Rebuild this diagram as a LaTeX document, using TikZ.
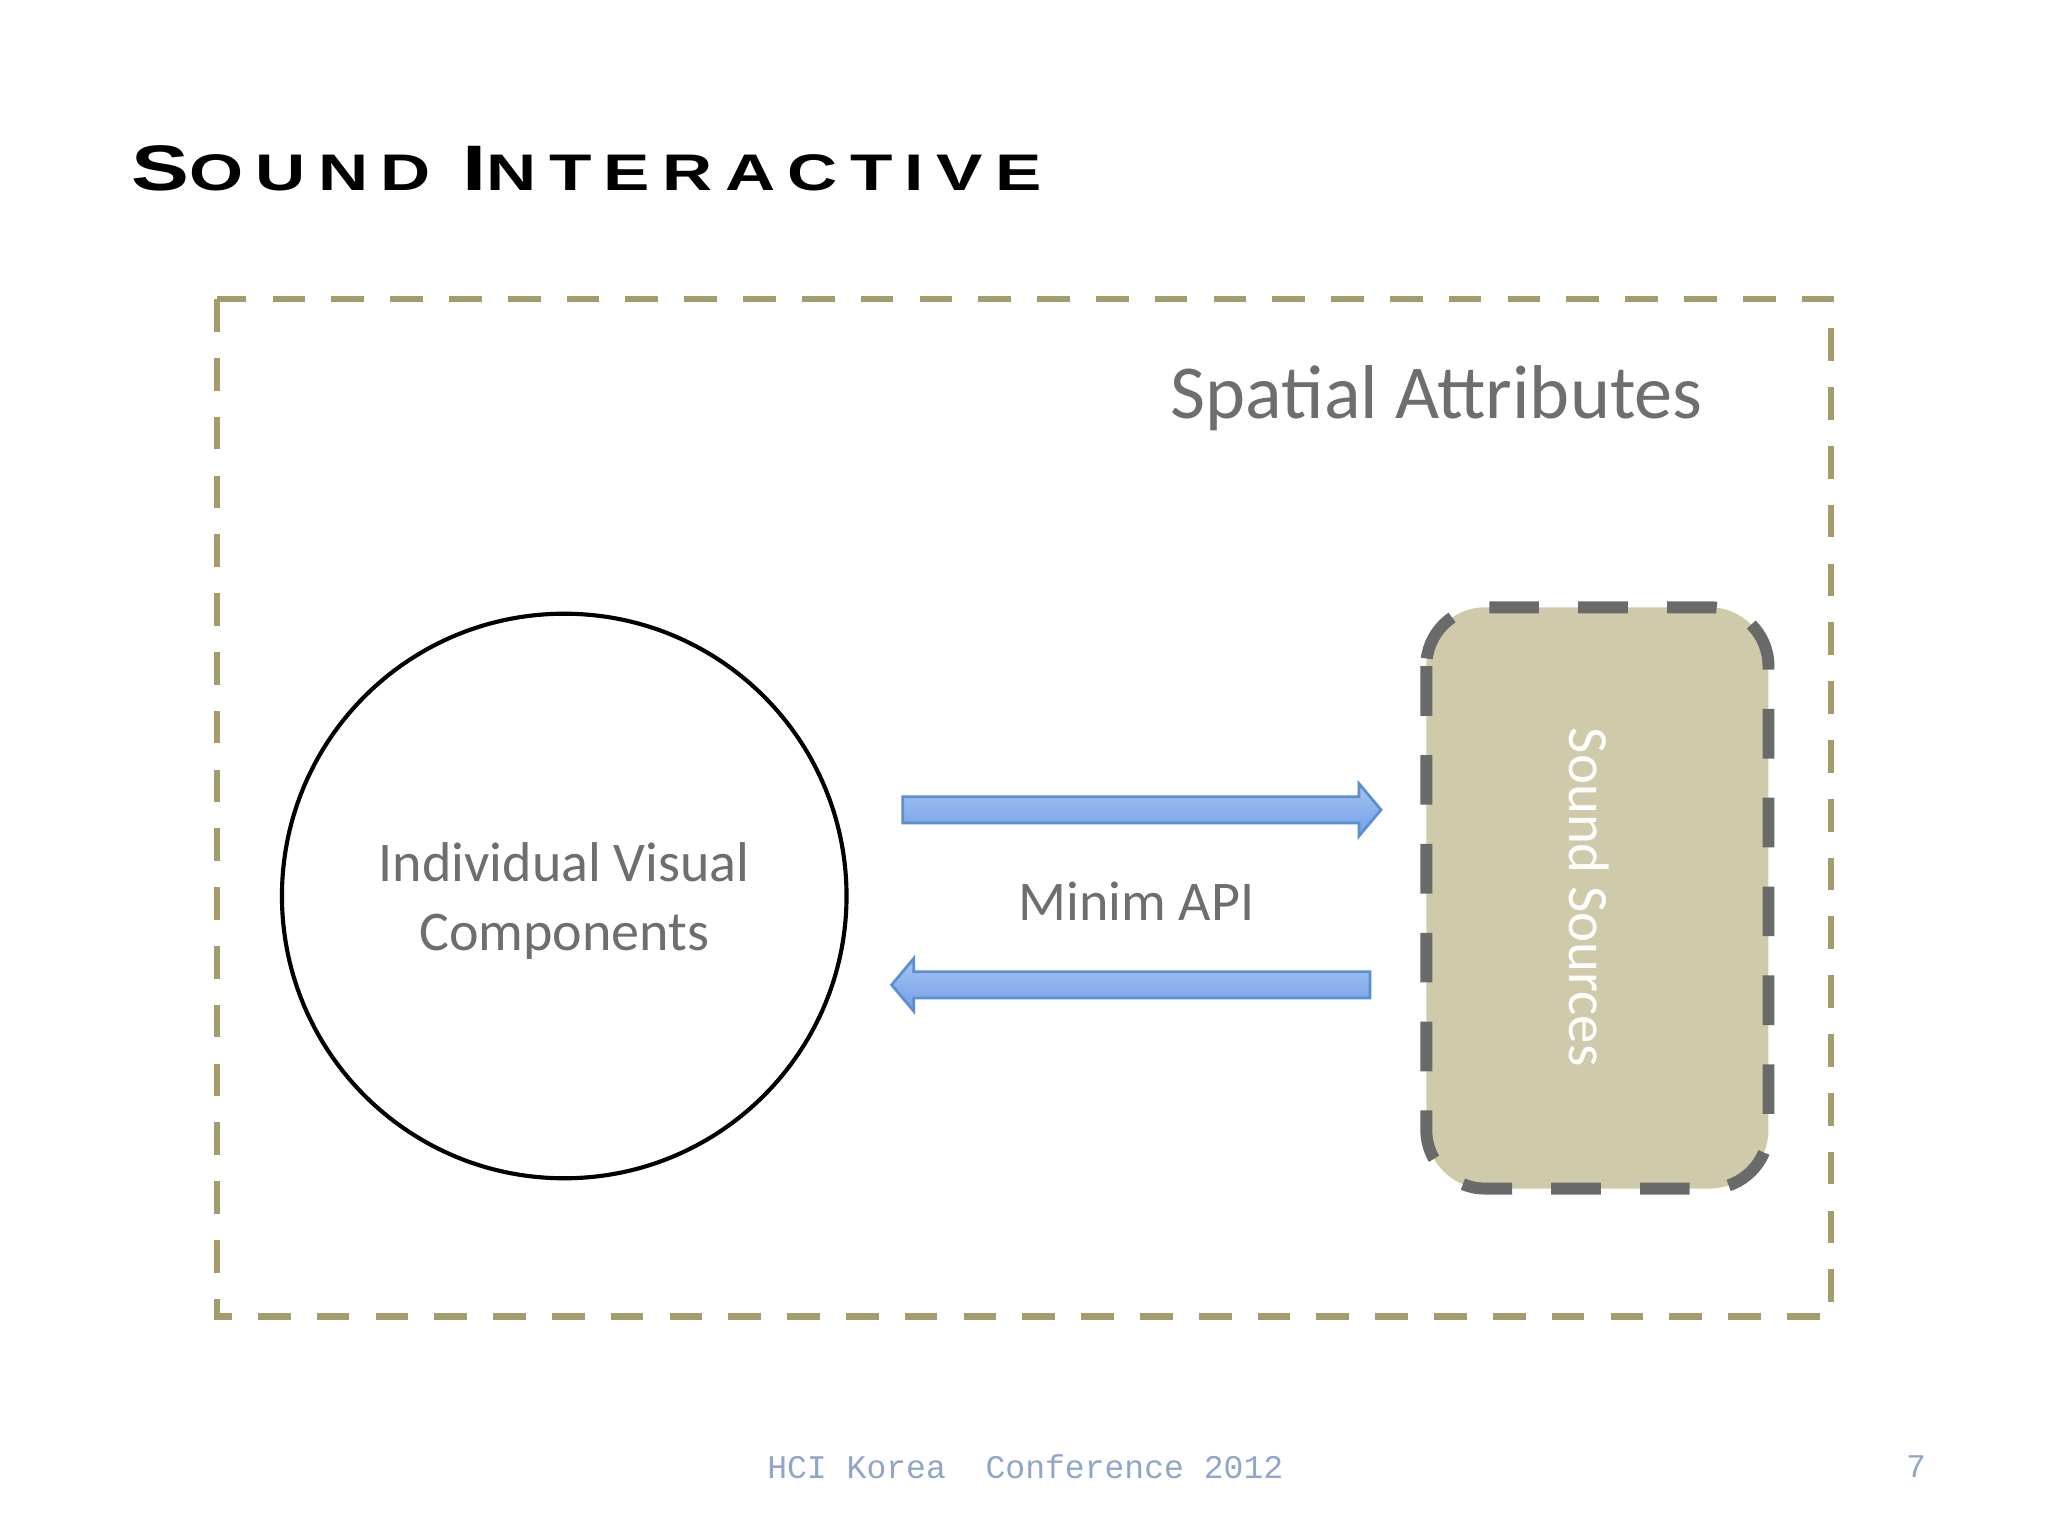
\documentclass[tikz,border=0pt]{standalone}
\usepackage{fontspec}
\setmainfont{Carlito}
\newfontfamily\titlefont[LetterSpace=24,FakeStretch=1.35]{Liberation Sans}
\newfontfamily\footfont{Liberation Mono}
\usetikzlibrary{shapes.arrows}
\definecolor{olive}{HTML}{A59C6E}
\definecolor{boxfill}{HTML}{CFCAA9}
\definecolor{boxline}{HTML}{6A6A6A}
\definecolor{txtgrey}{HTML}{6E6E6E}
\definecolor{foot}{HTML}{8FA6C9}
\definecolor{arrfill}{HTML}{7FAEE8}
\definecolor{arrline}{HTML}{5B8FD0}
\tikzset{
  px/.style={x=0.01cm,y=-0.01cm},
  bluearrow/.style={single arrow, draw=arrline, line width=0.6pt, top color=arrfill!70!white, bottom color=arrfill!90!blue,
    minimum height=3.66cm, inner sep=0.09cm, single arrow head extend=0.1cm, single arrow tip angle=100},
  label/.style={text=txtgrey, font=\fontsize{12.2}{15}\selectfont}
}
\begin{document}
\begin{tikzpicture}[px]
\useasboundingbox[fill=white] (0,0) rectangle (1568,1176);
\node[anchor=base west, inner sep=0] (title) at (100,146) {\titlefont\bfseries\fontsize{14}{14}\selectfont S\fontsize{11.2}{14}\selectfont OUND \fontsize{14}{14}\selectfont I\fontsize{11.2}{14}\selectfont NTERACTIVE};
\draw[olive, line width=1.4pt, dash pattern=on 0.25cm off 0.2cm] (166,229) rectangle (1402,1008);
\node[text=txtgrey, font=\fontsize{16.6}{18}\selectfont] (spatial) at (1100,305) {Spatial Attributes};
\node[circle, draw=black, line width=0.9pt, minimum size=4.32cm] (circ) at (432,686) {};
\node[label, align=center] (ivc) at (432,690) {Individual Visual\\[0pt]Components};
\draw[boxline, fill=boxfill, line width=2.6pt, rounded corners=0.45cm, dash pattern=on 0.38cm off 0.3cm] (1092,465) rectangle (1354,910);
\node[rotate=-90, text=white, font=\fontsize{12.4}{14}\selectfont] (ss) at (1217,687) {Sound Sources};
\node[bluearrow] (a1) at (870,620) {};
\node[bluearrow, shape border rotate=180] (a2) at (870,754) {};
\node[label] (api) at (870,690) {Minim API};
\node[text=foot, font=\footfont\fontsize{7.2}{9}\selectfont] (ft) at (785,1123) {HCI Korea\ \ Conference 2012};
\node[text=foot, font=\footfont\fontsize{7.2}{9}\selectfont] (pg) at (1467,1123) {7};
\end{tikzpicture}
\end{document}
